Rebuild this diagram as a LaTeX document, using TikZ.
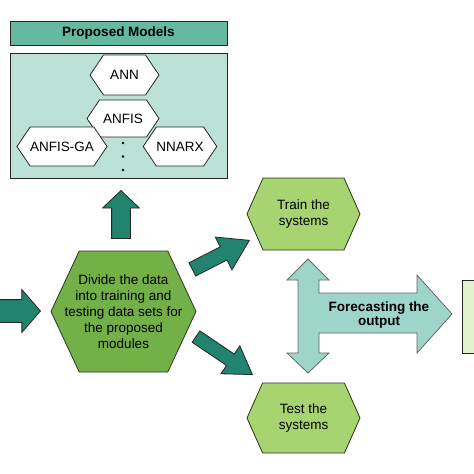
\documentclass[tikz,border=0pt]{standalone}
\usepackage{fontspec}
\setmainfont{Liberation Sans}
\usetikzlibrary{positioning,shapes.arrows,shapes.symbols}
\definecolor{titleteal}{RGB}{100,185,160}
\definecolor{panelteal}{RGB}{188,226,216}
\definecolor{arrowteal}{RGB}{34,131,110}
\definecolor{divgreen}{RGB}{115,176,72}
\definecolor{stagegreen}{RGB}{167,211,112}
\definecolor{forecast}{RGB}{158,213,202}
\definecolor{outbox}{RGB}{226,241,206}
\definecolor{hexline}{RGB}{38,58,28}
\tikzset{%
  box/.style={draw=black!85, line width=0.8pt, inner sep=0pt},
  hexbox/.style={draw=hexline, line width=0.8pt, shape=signal, signal to=east and west,
    inner sep=0pt, align=center, font=\fontsize{13.5}{16}\selectfont},% hexagon
  model/.style={hexbox, fill=white, draw=black!85, signal pointer angle=112},% model hexagon
  stage/.style={hexbox, fill=stagegreen, signal pointer angle=132},% train / test
  blockarrow/.style={draw=black!85, line width=0.8pt, fill=arrowteal, shape=single arrow,
    inner xsep=0pt, anchor=tip}% fat arrows
}
\begin{document}
\begin{tikzpicture}[x=1pt, y=-1pt]
\clip (0,0) rectangle (474,474);
\fill[white] (0,0) rectangle (474,474);

\node[box, fill=titleteal, minimum width=217pt, minimum height=24pt,
  font=\fontsize{13.5}{16}\selectfont\bfseries] (models) at (118.5,33) {Proposed Models};
\node[box, fill=panelteal, minimum width=217pt, minimum height=125pt] (panel) at (118.5,115.5) {};

\node[model, minimum width=69pt, minimum height=40pt] (ann) at (124.5,75) {ANN};
\node[model, minimum width=72pt, minimum height=37pt] (anfis) at (123,118.5) {ANFIS};
\node[model, minimum width=82pt, minimum height=39pt] (anfisga) at (62,146.5) {ANFIS-GA};
\node[model, minimum width=72pt, minimum height=39pt] (nnarx) at (180,146.5) {NNARX};
\foreach \y in {143,156.5,170}
  \fill (123,\y) circle (1.3pt);

\node[hexbox, fill=divgreen, signal pointer angle=130, minimum width=145pt, minimum height=121pt]
  (divide) at (123.5,311.5) {};
\node[align=center, font=\fontsize{13.5}{16}\selectfont] (divtext) at (divide.center)
  {Divide the data\\into training and\\testing data sets for\\the proposed\\modules};

\node[stage, minimum width=113pt, minimum height=72pt] (train) at (303.5,214) {Train the\\systems};
\node[stage, minimum width=113pt, minimum height=70pt] (test) at (303.5,418) {Test the\\systems};

\node[blockarrow, inner ysep=11pt, single arrow head extend=10pt, single arrow tip angle=98,
  minimum height=70pt] (inArrow) at (41,311) {};
\node[blockarrow, rotate=90, inner ysep=9pt, single arrow head extend=9pt, single arrow tip angle=93,
  minimum height=48pt] (upArrow) at (121,190) {};
\node[blockarrow, rotate=27, inner ysep=7pt, single arrow head extend=11pt, single arrow tip angle=65,
  minimum height=64pt] (trainArrow) at (250,240) {};
\node[blockarrow, rotate=-34, inner ysep=6.5pt, single arrow head extend=10pt, single arrow tip angle=65,
  minimum height=68pt] (testArrow) at (253,375) {};

% forecasting arrow
\draw[line width=0.8pt, draw=black!60, fill=forecast]
  (308,259) -- (329,280) -- (319,280) -- (319,293) -- (417,293) -- (417,275) -- (452,314)
  -- (417,353) -- (417,333) -- (319,333) -- (319,353) -- (329,353) -- (308,373)
  -- (287,353) -- (298,353) -- (298,280) -- (287,280) -- cycle;
\node[align=center, font=\fontsize{13.5}{14.5}\selectfont\bfseries] (fcast) at (379,315)
  {Forecasting the\\output};

\node[box, fill=outbox, minimum width=30pt, minimum height=73pt] (output) at (477,316.5) {};

\end{tikzpicture}
\end{document}
